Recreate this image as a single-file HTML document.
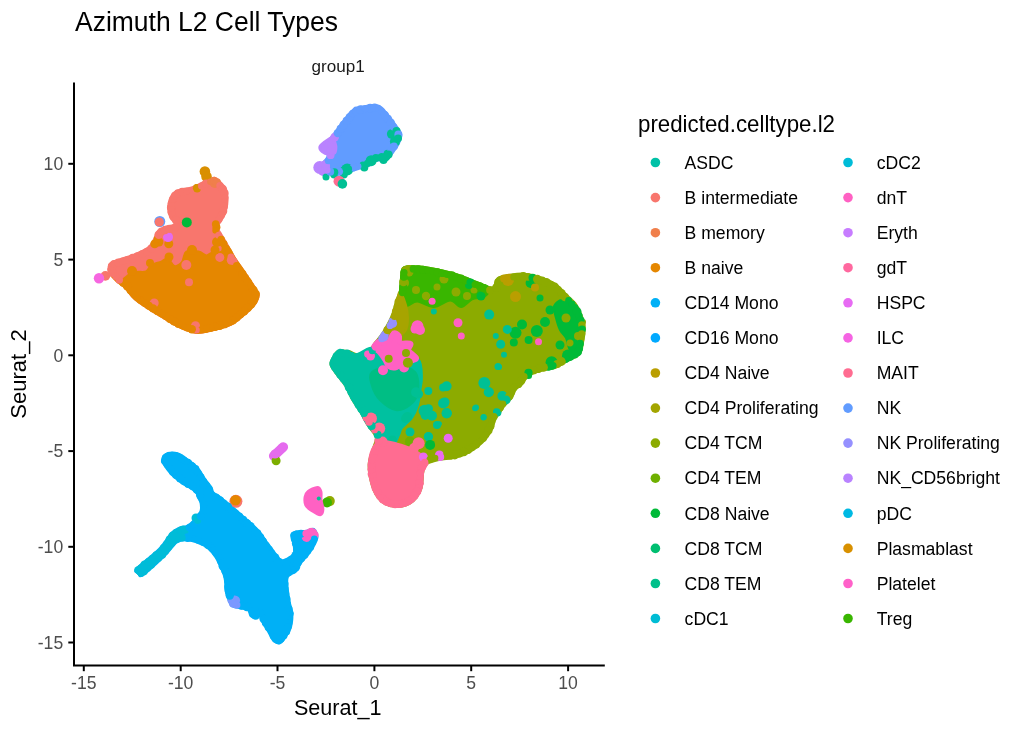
<!DOCTYPE html><html><head><meta charset="utf-8"><style>html,body{margin:0;padding:0;background:#fff;}svg{display:block;will-change:transform;}text{font-family:"Liberation Sans",sans-serif;}</style></head><body>
<svg width="1024" height="731" viewBox="0 0 1024 731">
<rect width="1024" height="731" fill="#fff"/>
<text transform="translate(75 30.9) scale(1 1.065)" x="0" y="0" font-size="26.5" fill="#000">Azimuth L2 Cell Types</text>
<text x="338.2" y="71.6" font-size="17.1" fill="#1A1A1A" text-anchor="middle">group1</text>
<path d="M170.3 217.5 C169.2 214.8 168.3 210.9 168.2 207.9 C168.1 204.9 168.7 202.2 169.6 199.7 C170.5 197.2 171.9 194.5 173.7 192.8 C175.5 191.1 177.5 190.3 180.5 189.4 C183.5 188.5 188.3 188.3 191.5 187.4 C194.7 186.5 197.2 185.2 199.7 184.0 C202.2 182.8 204.0 181.5 206.5 180.5 C209.0 179.5 212.4 177.6 214.7 177.8 C217.0 178.0 218.4 180.1 220.2 181.9 C222.0 183.7 224.4 186.0 225.7 188.7 C226.9 191.4 227.7 194.4 227.7 198.3 C227.7 202.2 226.7 208.3 225.7 212.0 C224.7 215.7 223.0 217.7 221.6 220.2 C220.2 222.7 217.7 224.9 217.5 227.0 C217.3 229.1 219.1 230.4 220.2 232.5 C221.3 234.6 222.7 236.6 224.3 239.3 C225.9 242.0 228.0 245.7 229.8 248.9 C231.6 252.1 232.7 254.6 235.2 258.5 C237.7 262.4 241.4 267.3 244.7 272.2 C248.0 277.1 252.9 284.2 255.2 288.0 C257.5 291.8 258.7 292.4 258.7 295.0 C258.7 297.6 257.5 300.6 255.2 303.8 C252.9 307.0 248.8 310.9 244.7 314.4 C240.6 317.9 235.9 322.3 230.6 324.9 C225.3 327.5 218.8 328.9 213.0 330.2 C207.2 331.5 201.3 333.4 195.5 332.8 C189.7 332.2 183.8 329.5 177.9 326.7 C172.0 323.9 165.6 319.3 160.3 316.1 C155.0 312.9 150.6 310.2 146.2 307.3 C141.8 304.4 137.5 301.8 134.0 298.6 C130.5 295.4 128.1 290.9 125.2 288.0 C122.3 285.1 119.1 283.6 116.4 281.0 C113.8 278.4 110.3 275.1 109.3 272.2 C108.3 269.3 108.7 265.4 110.2 263.4 C111.7 261.3 114.1 261.4 118.1 259.9 C122.1 258.4 129.0 256.6 134.0 254.6 C139.0 252.6 144.8 249.9 148.0 247.6 C151.2 245.2 151.7 243.2 153.3 240.5 C154.9 237.8 155.6 233.8 157.5 231.5 C159.4 229.2 162.1 228.2 165.0 227.0 C167.9 225.8 174.1 225.9 175.0 224.3 C175.9 222.7 171.4 220.2 170.3 217.5Z" fill="#F8766D" stroke="#F8766D" stroke-width="2" stroke-linejoin="round"/>
<path d="M111.0 275.0 C111.5 275.0 117.0 280.8 119.7 281.0 C122.4 281.2 124.5 277.5 127.0 276.0 C129.6 274.5 131.8 272.8 135.0 272.0 C138.2 271.2 143.3 272.6 146.0 271.4 C148.7 270.2 148.8 266.5 151.4 264.9 C154.0 263.3 158.6 262.7 161.3 261.6 C164.0 260.5 165.6 257.6 167.8 258.3 C170.0 259.0 172.0 265.4 174.4 266.0 C176.8 266.6 180.0 264.4 182.0 262.0 C184.0 259.6 183.5 253.3 186.3 251.6 C189.1 249.9 195.3 251.0 198.7 251.6 C202.0 252.2 204.2 255.2 206.4 255.4 C208.6 255.6 209.6 253.2 212.1 252.6 C214.6 252.0 219.9 253.2 221.7 251.6 C223.5 250.0 222.0 243.9 222.7 243.0 C223.4 242.1 224.8 245.0 226.0 246.0 C227.2 247.0 228.3 246.8 229.8 248.9 C231.3 251.0 232.7 254.6 235.2 258.5 C237.7 262.4 241.4 267.3 244.7 272.2 C248.0 277.1 252.9 284.2 255.2 288.0 C257.5 291.8 258.7 292.4 258.7 295.0 C258.7 297.6 257.5 300.6 255.2 303.8 C252.9 307.0 248.8 310.9 244.7 314.4 C240.6 317.9 235.9 322.3 230.6 324.9 C225.3 327.5 218.8 328.9 213.0 330.2 C207.2 331.5 201.3 333.4 195.5 332.8 C189.7 332.2 183.8 329.5 177.9 326.7 C172.0 323.9 165.6 319.3 160.3 316.1 C155.0 312.9 150.6 310.2 146.2 307.3 C141.8 304.4 137.5 301.8 134.0 298.6 C130.5 295.4 128.1 290.9 125.2 288.0 C122.3 285.1 118.8 283.2 116.4 281.0 C114.0 278.8 110.5 275.0 111.0 275.0Z" fill="#E58700" stroke="#E58700" stroke-width="2" stroke-linejoin="round"/>
<circle cx="154.2" cy="303.0" r="4.5" fill="#F8766D"/><circle cx="195.5" cy="325.8" r="4.5" fill="#F8766D"/><circle cx="219.8" cy="257.4" r="4.5" fill="#F8766D"/><circle cx="231.3" cy="260.2" r="4.5" fill="#F8766D"/><circle cx="186.3" cy="265.0" r="5.0" fill="#F8766D"/><circle cx="189.0" cy="282.3" r="4.0" fill="#F8766D"/>
<circle cx="158.9" cy="242.0" r="4.5" fill="#E58700"/><circle cx="168.8" cy="243.7" r="4.5" fill="#E58700"/><circle cx="216.4" cy="227.3" r="4.0" fill="#E58700"/><circle cx="217.0" cy="242.0" r="5.0" fill="#E58700"/><circle cx="132.0" cy="271.0" r="5.0" fill="#E58700"/><circle cx="150.0" cy="263.0" r="4.0" fill="#E58700"/><circle cx="169.0" cy="257.0" r="4.5" fill="#E58700"/><circle cx="192.0" cy="250.0" r="5.0" fill="#E58700"/><circle cx="215.0" cy="250.0" r="4.5" fill="#E58700"/>
<circle cx="204.9" cy="171.5" r="5.3" fill="#D98F00"/><circle cx="206.5" cy="176.4" r="5.3" fill="#D98F00"/><circle cx="196.5" cy="187.0" r="3.0" fill="#D98F00"/>
<circle cx="214.7" cy="183.0" r="5.0" fill="#F07F4B"/>
<circle cx="159.8" cy="221.5" r="5.5" fill="#619CFF"/><circle cx="159.3" cy="222.0" r="4.6" fill="#F8766D"/>
<circle cx="105.4" cy="275.9" r="4.8" fill="#F8766D"/><circle cx="99.0" cy="278.3" r="5.2" fill="#F666E0"/>
<circle cx="168.0" cy="237.1" r="5.0" fill="#E56BEE"/><circle cx="186.8" cy="222.4" r="5.0" fill="#00BA38"/>
<path d="M369.8 105.3 C373.9 104.8 376.4 104.5 379.4 106.0 C382.4 107.5 384.9 111.0 387.6 114.2 C390.3 117.4 393.5 121.7 395.8 125.1 C398.1 128.5 400.9 131.5 401.3 134.7 C401.8 137.9 399.9 141.3 398.5 144.3 C397.1 147.3 394.8 150.0 393.0 152.5 C391.2 155.0 390.3 157.9 387.6 159.3 C384.9 160.7 379.3 159.8 376.6 160.7 C373.9 161.6 374.2 163.4 371.2 164.8 C368.2 166.2 362.7 167.7 358.8 168.9 C354.9 170.1 352.0 171.0 347.9 172.0 C343.8 173.0 338.0 175.0 334.2 175.0 C330.4 175.0 327.0 173.8 325.0 172.0 C323.0 170.2 321.6 166.6 322.0 164.0 C322.4 161.4 326.2 160.6 327.4 156.6 C328.6 152.6 328.3 144.1 329.4 140.2 C330.5 136.3 331.6 137.0 334.2 133.3 C336.8 129.7 341.8 122.4 345.2 118.3 C348.6 114.2 350.6 110.9 354.7 108.7 C358.8 106.5 365.7 105.8 369.8 105.3Z" fill="#619CFF" stroke="#619CFF" stroke-width="2" stroke-linejoin="round"/>
<path d="M337.1 135.7 C336.7 135.1 334.2 136.0 332.2 137.0 C330.1 138.0 326.9 140.3 324.8 141.9 C322.8 143.5 320.3 145.2 319.9 146.8 C319.5 148.4 320.9 150.5 322.3 151.7 C323.7 152.9 326.4 154.0 328.5 154.2 C330.6 154.4 333.4 154.2 334.6 153.0 C335.8 151.8 335.9 148.9 335.9 146.8 C335.9 144.7 334.4 142.4 334.6 140.6 C334.8 138.8 337.5 136.3 337.1 135.7Z" fill="#B983FF" stroke="#B983FF" stroke-width="3" stroke-linejoin="round"/>
<circle cx="319.8" cy="167.5" r="6.5" fill="#B983FF"/><circle cx="323.0" cy="171.0" r="5.0" fill="#B983FF"/><circle cx="326.0" cy="166.0" r="4.0" fill="#B983FF"/>
<circle cx="391.7" cy="134.0" r="4.8" fill="#00C094"/><circle cx="394.4" cy="141.5" r="4.5" fill="#00C094"/><circle cx="387.6" cy="153.8" r="4.0" fill="#00C094"/><circle cx="383.5" cy="160.0" r="4.0" fill="#00C094"/><circle cx="371.2" cy="160.7" r="5.5" fill="#00C094"/><circle cx="364.3" cy="167.5" r="4.0" fill="#00C094"/><circle cx="347.2" cy="169.6" r="6.0" fill="#00C094"/><circle cx="343.8" cy="174.4" r="4.0" fill="#00C094"/><circle cx="334.2" cy="174.4" r="4.0" fill="#00C094"/><circle cx="326.0" cy="177.0" r="3.5" fill="#00C094"/>
<circle cx="339.0" cy="181.2" r="5.5" fill="#FF6C91"/><circle cx="342.4" cy="183.9" r="4.8" fill="#00C094"/>
<path d="M403.6 267.5 C406.7 265.6 412.8 266.0 419.6 266.6 C426.4 267.2 437.9 269.5 444.6 271.0 C451.3 272.5 454.6 273.5 460.0 275.4 C465.4 277.3 471.7 280.2 477.1 282.2 C482.5 284.2 489.1 288.1 492.5 287.4 C495.9 286.7 494.5 280.1 497.6 278.0 C500.7 275.9 506.7 275.2 511.3 274.5 C515.9 273.8 520.2 273.3 525.0 273.7 C529.8 274.1 535.2 275.4 540.3 277.1 C545.4 278.8 551.4 281.1 555.7 284.0 C560.0 286.9 562.6 290.8 566.0 294.2 C569.4 297.6 573.6 301.0 576.2 304.4 C578.8 307.8 580.0 311.0 581.4 314.7 C582.8 318.4 584.5 322.1 584.8 326.7 C585.1 331.2 584.0 337.4 583.1 342.0 C582.2 346.6 582.3 350.9 579.7 354.0 C577.1 357.1 571.7 358.6 567.7 360.9 C563.7 363.2 560.3 366.0 555.7 367.7 C551.1 369.4 544.8 369.7 540.3 371.1 C535.8 372.5 531.5 373.9 528.4 376.2 C525.3 378.5 523.5 382.8 521.5 385.0 C519.5 387.2 517.7 387.1 516.1 389.2 C514.5 391.3 514.0 394.4 512.0 397.4 C509.9 400.4 506.5 403.4 503.8 407.0 C501.1 410.6 497.4 415.9 495.6 419.3 C493.8 422.7 494.2 424.5 492.8 427.5 C491.4 430.5 489.9 433.9 487.4 437.1 C484.9 440.3 481.2 443.9 477.8 446.6 C474.4 449.3 470.8 451.6 466.8 453.5 C462.9 455.4 458.8 457.0 454.1 458.1 C449.4 459.2 443.3 459.0 438.8 460.0 C434.3 461.0 429.9 462.0 427.3 463.9 C424.7 465.8 424.2 468.6 423.4 471.5 C422.6 474.4 423.0 477.9 422.5 481.1 C422.0 484.3 422.4 487.2 420.6 490.7 C418.9 494.2 415.7 499.5 412.0 502.2 C408.3 504.9 403.0 506.7 398.5 507.0 C394.0 507.3 388.9 506.2 385.1 504.1 C381.3 502.0 378.2 499.0 375.6 494.5 C373.1 490.0 370.9 482.7 369.8 477.3 C368.7 471.9 368.3 467.1 368.9 462.0 C369.5 456.9 372.5 450.8 373.6 446.6 C374.7 442.4 376.6 440.5 375.6 437.0 C374.7 433.5 370.5 429.8 367.9 425.6 C365.3 421.5 362.9 416.6 360.2 412.1 C357.5 407.6 354.2 403.2 351.6 398.7 C349.1 394.2 347.2 389.1 344.9 385.3 C342.6 381.5 340.2 379.3 337.8 376.0 C335.4 372.7 331.6 368.3 330.7 365.3 C329.8 362.3 331.3 360.6 332.5 358.2 C333.7 355.8 335.1 352.3 337.8 351.1 C340.5 349.9 344.9 350.5 348.5 351.1 C352.1 351.7 355.6 354.9 359.1 354.6 C362.7 354.3 367.1 351.4 369.8 349.3 C372.5 347.2 373.1 344.9 375.2 342.2 C377.3 339.5 379.9 336.9 382.3 333.3 C384.7 329.7 387.6 324.4 389.4 320.8 C391.2 317.2 391.8 315.6 393.0 312.0 C394.2 308.4 395.3 303.1 396.5 299.5 C397.7 295.9 399.4 294.2 400.1 290.6 C400.9 287.0 400.4 282.0 401.0 278.1 C401.6 274.2 400.5 269.4 403.6 267.5Z" fill="#8CAB00" stroke="#8CAB00" stroke-width="2" stroke-linejoin="round"/>
<path d="M403.6 267.5 C406.7 265.6 412.8 266.0 419.6 266.6 C426.4 267.2 437.9 269.5 444.6 271.0 C451.3 272.5 454.6 273.5 460.0 275.4 C465.4 277.3 472.4 280.2 477.1 282.2 C481.9 284.2 486.6 285.6 488.5 287.4 C490.4 289.2 489.4 291.2 488.5 292.8 C487.6 294.4 485.7 296.1 483.0 297.2 C480.3 298.3 475.8 297.8 472.1 299.4 C468.5 301.0 464.8 306.8 461.1 307.0 C457.5 307.2 454.8 300.5 450.2 300.5 C445.6 300.5 439.3 306.8 433.8 307.0 C428.3 307.2 422.0 301.8 417.4 301.6 C412.8 301.4 409.3 306.3 406.4 306.0 C403.5 305.7 400.9 304.6 400.0 300.0 C399.1 295.4 400.4 283.5 401.0 278.1 C401.6 272.7 400.5 269.4 403.6 267.5Z" fill="#39B600" stroke="#39B600" stroke-width="2" stroke-linejoin="round"/>
<circle cx="409.0" cy="272.0" r="4.5" fill="#8CAB00"/><circle cx="405.0" cy="283.0" r="4.0" fill="#8CAB00"/><circle cx="416.0" cy="290.0" r="4.0" fill="#8CAB00"/><circle cx="444.0" cy="279.0" r="4.5" fill="#8CAB00"/><circle cx="456.0" cy="292.0" r="4.5" fill="#8CAB00"/><circle cx="467.0" cy="296.0" r="4.0" fill="#8CAB00"/><circle cx="426.0" cy="296.0" r="4.2" fill="#8CAB00"/><circle cx="437.0" cy="287.0" r="3.5" fill="#8CAB00"/><circle cx="474.0" cy="290.0" r="3.5" fill="#8CAB00"/>
<circle cx="481.0" cy="296.0" r="4.5" fill="#00BA38"/><circle cx="469.0" cy="285.0" r="4.0" fill="#00BA38"/>
<path d="M400.0 292.0 C401.5 292.8 404.7 300.7 406.0 305.0 C407.3 309.3 408.0 313.8 408.0 318.0 C408.0 322.2 407.7 327.0 406.0 330.0 C404.3 333.0 402.0 334.8 398.0 336.0 C394.0 337.2 383.7 338.3 382.0 337.0 C380.3 335.7 386.2 331.7 388.0 328.0 C389.8 324.3 391.5 319.7 393.0 315.0 C394.5 310.3 395.8 303.8 397.0 300.0 C398.2 296.2 398.5 291.2 400.0 292.0Z" fill="#A7A400" stroke="#A7A400" stroke-width="2" stroke-linejoin="round"/>
<path d="M562.0 300.0 C565.0 299.8 569.0 302.3 572.0 305.0 C575.0 307.7 578.0 312.2 580.0 316.0 C582.0 319.8 583.7 323.7 584.0 328.0 C584.3 332.3 583.0 338.0 582.0 342.0 C581.0 346.0 580.0 350.7 578.0 352.0 C576.0 353.3 572.0 352.3 570.0 350.0 C568.0 347.7 567.7 341.3 566.0 338.0 C564.3 334.7 561.7 333.3 560.0 330.0 C558.3 326.7 557.0 322.0 556.0 318.0 C555.0 314.0 553.0 309.0 554.0 306.0 C555.0 303.0 559.0 300.2 562.0 300.0Z" fill="#00BA38" stroke="#00BA38" stroke-width="2" stroke-linejoin="round"/>
<circle cx="566.0" cy="318.0" r="4.5" fill="#8CAB00"/><circle cx="578.0" cy="336.0" r="4.0" fill="#8CAB00"/><circle cx="570.0" cy="343.0" r="3.5" fill="#8CAB00"/><circle cx="583.0" cy="322.0" r="3.0" fill="#8CAB00"/>
<circle cx="536.8" cy="331.0" r="6.0" fill="#00BA38"/><circle cx="515.5" cy="332.7" r="6.0" fill="#00BA38"/><circle cx="522.0" cy="324.5" r="5.0" fill="#00BA38"/><circle cx="513.8" cy="342.5" r="4.0" fill="#00BA38"/><circle cx="551.6" cy="362.2" r="6.0" fill="#00BA38"/><circle cx="568.0" cy="355.6" r="6.0" fill="#00BA38"/><circle cx="576.2" cy="349.0" r="5.0" fill="#00BA38"/><circle cx="545.0" cy="322.0" r="5.0" fill="#00BA38"/><circle cx="550.0" cy="310.0" r="4.5" fill="#00BA38"/><circle cx="530.6" cy="283.0" r="5.0" fill="#00BA38"/><circle cx="568.2" cy="355.2" r="5.0" fill="#00BA38"/><circle cx="540.0" cy="298.0" r="3.5" fill="#00BA38"/><circle cx="560.0" cy="345.0" r="4.5" fill="#00BA38"/><circle cx="528.6" cy="340.0" r="4.0" fill="#00BA38"/>
<circle cx="508.0" cy="280.0" r="6.0" fill="#BA9E00"/><circle cx="515.5" cy="296.6" r="5.5" fill="#BA9E00"/><circle cx="535.0" cy="287.6" r="4.0" fill="#BA9E00"/>
<circle cx="538.5" cy="341.7" r="3.5" fill="#FF61C3"/><circle cx="458.0" cy="322.8" r="4.5" fill="#FF61C3"/><circle cx="461.3" cy="336.0" r="3.5" fill="#FF61C3"/>
<circle cx="489.2" cy="314.6" r="5.0" fill="#00C094"/><circle cx="500.7" cy="344.2" r="4.5" fill="#00C094"/><circle cx="507.3" cy="329.4" r="4.5" fill="#00C094"/><circle cx="495.8" cy="336.0" r="3.0" fill="#00C094"/><circle cx="504.0" cy="354.8" r="3.0" fill="#00C094"/><circle cx="499.0" cy="367.0" r="3.0" fill="#00C094"/>
<path d="M331.6 359.5 C333.1 356.9 336.0 350.5 339.8 349.7 C343.6 348.9 349.7 354.9 354.6 354.6 C359.5 354.3 365.2 348.8 369.4 348.0 C373.6 347.2 374.9 348.7 380.0 350.0 C385.1 351.3 393.6 354.4 400.0 356.0 C406.4 357.6 415.0 355.9 418.6 359.5 C422.2 363.1 421.7 372.2 421.9 377.6 C422.1 383.0 420.6 387.4 420.0 392.0 C419.4 396.6 419.3 400.7 418.0 405.0 C416.7 409.3 414.7 414.2 412.0 418.0 C409.3 421.8 404.2 425.2 402.0 428.0 C399.8 430.8 400.6 432.2 399.0 435.0 C397.4 437.8 395.9 444.8 392.4 445.0 C388.9 445.2 382.1 439.2 378.0 436.0 C373.9 432.8 370.9 429.6 367.9 425.6 C364.9 421.6 362.9 416.6 360.2 412.1 C357.5 407.6 354.2 403.2 351.6 398.7 C349.1 394.2 347.2 389.1 344.9 385.3 C342.6 381.5 340.2 379.3 337.8 376.0 C335.4 372.7 331.7 368.1 330.7 365.3 C329.7 362.6 330.1 362.1 331.6 359.5Z" fill="#00C1A0" stroke="#00C1A0" stroke-width="2" stroke-linejoin="round"/>
<path d="M372.0 372.0 C375.8 368.7 387.8 366.0 395.0 366.0 C402.2 366.0 411.2 367.7 415.0 372.0 C418.8 376.3 418.8 386.5 418.0 392.0 C417.2 397.5 413.7 402.0 410.0 405.0 C406.3 408.0 401.0 410.8 396.0 410.0 C391.0 409.2 384.0 404.0 380.0 400.0 C376.0 396.0 373.3 390.7 372.0 386.0 C370.7 381.3 368.2 375.3 372.0 372.0Z" fill="#00BE84" stroke="#00BE84" stroke-width="2" stroke-linejoin="round"/>
<circle cx="418.6" cy="394.0" r="4.5" fill="#00C094"/><circle cx="428.5" cy="408.8" r="4.5" fill="#00C094"/><circle cx="445.0" cy="402.0" r="4.5" fill="#00C094"/><circle cx="446.5" cy="413.7" r="4.5" fill="#00C094"/><circle cx="425.2" cy="415.4" r="4.5" fill="#00C094"/><circle cx="405.5" cy="418.6" r="4.5" fill="#00C094"/><circle cx="428.5" cy="436.7" r="4.5" fill="#00C094"/><circle cx="392.4" cy="440.0" r="4.5" fill="#00C094"/><circle cx="484.3" cy="383.0" r="6.0" fill="#00C094"/><circle cx="489.2" cy="392.0" r="4.5" fill="#00C094"/><circle cx="502.4" cy="396.0" r="5.0" fill="#00C094"/><circle cx="498.0" cy="366.6" r="3.5" fill="#00C094"/><circle cx="497.4" cy="412.5" r="4.0" fill="#00C094"/><circle cx="476.0" cy="407.6" r="3.0" fill="#00C094"/><circle cx="446.6" cy="386.3" r="5.0" fill="#00C094"/><circle cx="444.1" cy="402.7" r="5.0" fill="#00C094"/><circle cx="446.6" cy="413.3" r="5.0" fill="#00C094"/><circle cx="483.5" cy="417.4" r="3.0" fill="#00C094"/><circle cx="433.8" cy="311.4" r="3.0" fill="#00C094"/><circle cx="437.0" cy="425.0" r="4.0" fill="#00C094"/><circle cx="410.0" cy="432.0" r="4.5" fill="#00C094"/>
<circle cx="416.0" cy="392.3" r="5.0" fill="#00C094"/><circle cx="424.6" cy="410.8" r="6.0" fill="#00C094"/><circle cx="432.0" cy="415.7" r="5.0" fill="#00C094"/><circle cx="443.1" cy="403.4" r="5.0" fill="#00C094"/><circle cx="446.8" cy="413.3" r="5.0" fill="#00C094"/><circle cx="443.1" cy="387.4" r="4.0" fill="#00C094"/><circle cx="428.3" cy="391.0" r="4.0" fill="#00C094"/><circle cx="407.4" cy="417.0" r="5.0" fill="#00C094"/><circle cx="404.9" cy="452.7" r="5.0" fill="#00C094"/><circle cx="428.3" cy="436.6" r="4.5" fill="#00C094"/><circle cx="488.7" cy="392.3" r="5.0" fill="#00C094"/><circle cx="497.3" cy="412.0" r="4.0" fill="#00C094"/><circle cx="475.1" cy="408.3" r="3.0" fill="#00C094"/><circle cx="483.7" cy="417.0" r="3.0" fill="#00C094"/><circle cx="439.4" cy="423.7" r="2.5" fill="#00C094"/>
<circle cx="409.9" cy="441.6" r="5.0" fill="#6FB000"/>
<path d="M373.6 446.6 C376.0 443.1 379.4 441.6 383.0 441.0 C386.6 440.4 390.5 441.8 395.0 443.0 C399.5 444.2 404.6 445.2 410.0 448.0 C415.4 450.8 425.1 456.1 427.3 460.0 C429.5 463.9 424.2 468.0 423.4 471.5 C422.6 475.0 423.0 477.9 422.5 481.1 C422.0 484.3 422.4 487.2 420.6 490.7 C418.9 494.2 415.7 499.5 412.0 502.2 C408.3 504.9 403.0 506.7 398.5 507.0 C394.0 507.3 388.9 506.2 385.1 504.1 C381.3 502.0 378.2 499.0 375.6 494.5 C373.1 490.0 370.9 482.7 369.8 477.3 C368.7 471.9 368.3 467.1 368.9 462.0 C369.5 456.9 371.2 450.1 373.6 446.6Z" fill="#FF6C91" stroke="#FF6C91" stroke-width="2" stroke-linejoin="round"/>
<circle cx="371.0" cy="418.6" r="6.0" fill="#FF6C91"/><circle cx="379.2" cy="428.5" r="6.0" fill="#FF6C91"/><circle cx="382.5" cy="441.6" r="5.0" fill="#FF6C91"/><circle cx="418.6" cy="443.3" r="6.0" fill="#FF6C91"/><circle cx="414.0" cy="448.0" r="5.0" fill="#FF6C91"/>
<path d="M388.7 341.6 C390.3 340.0 391.7 333.9 393.5 333.0 C395.3 332.1 398.2 334.3 399.3 335.9 C400.4 337.5 398.3 341.3 400.2 342.6 C402.1 343.9 409.4 342.2 410.8 343.5 C412.2 344.8 407.9 347.8 408.8 350.2 C409.8 352.6 416.0 356.1 416.5 357.9 C417.0 359.7 413.6 360.2 411.7 360.8 C409.8 361.4 407.6 360.6 405.0 361.7 C402.4 362.8 399.1 366.7 396.4 367.5 C393.7 368.3 390.6 367.8 388.7 366.5 C386.8 365.2 386.5 362.2 384.9 359.8 C383.3 357.4 380.9 354.0 379.2 352.1 C377.4 350.2 374.9 349.7 374.4 348.3 C373.9 346.9 374.7 344.4 376.3 343.5 C377.9 342.6 381.9 342.9 384.0 342.6 C386.1 342.3 387.1 343.2 388.7 341.6Z" fill="#FF61C3" stroke="#FF61C3" stroke-width="5" stroke-linejoin="round"/>
<circle cx="383.0" cy="370.3" r="5.0" fill="#FF61C3"/><circle cx="404.0" cy="367.5" r="5.0" fill="#FF61C3"/><circle cx="370.5" cy="356.0" r="4.5" fill="#FF61C3"/><circle cx="417.5" cy="326.3" r="6.0" fill="#FF61C3"/><circle cx="420.0" cy="330.0" r="5.0" fill="#FF61C3"/><circle cx="415.0" cy="329.0" r="4.5" fill="#FF61C3"/><circle cx="432.1" cy="301.3" r="3.5" fill="#FF61C3"/>
<circle cx="388.7" cy="358.8" r="4.0" fill="#8CAB00"/><circle cx="407.9" cy="362.7" r="5.0" fill="#8CAB00"/><circle cx="406.0" cy="353.1" r="4.0" fill="#8CAB00"/>
<circle cx="392.6" cy="323.4" r="4.5" fill="#9590FF"/><circle cx="384.0" cy="336.8" r="4.5" fill="#9590FF"/>
<circle cx="528.6" cy="375.6" r="3.5" fill="#00BA38"/><circle cx="551.6" cy="365.0" r="5.0" fill="#00BA38"/><circle cx="430.1" cy="444.9" r="5.0" fill="#00BA38"/><circle cx="448.2" cy="438.3" r="4.5" fill="#EA6AF0"/><circle cx="423.4" cy="457.0" r="4.5" fill="#EA6AF0"/><circle cx="439.4" cy="455.0" r="4.5" fill="#EA6AF0"/>
<path d="M163.1 456.4 C163.9 454.9 165.1 453.7 167.5 453.1 C169.9 452.6 174.5 452.4 177.4 453.1 C180.3 453.8 182.3 455.7 185.0 457.5 C187.7 459.3 191.4 462.1 193.8 464.1 C196.2 466.1 197.4 467.1 199.2 469.5 C201.0 471.9 202.7 475.4 204.7 478.3 C206.7 481.2 209.8 484.6 211.3 487.0 C212.8 489.4 212.1 490.9 213.5 492.5 C214.9 494.1 217.8 495.2 220.0 496.9 C222.2 498.5 224.8 500.9 226.6 502.4 C228.4 503.8 228.7 503.7 231.0 505.6 C233.3 507.5 236.8 510.8 240.2 513.7 C243.6 516.7 248.0 520.3 251.2 523.3 C254.4 526.3 256.9 528.5 259.4 531.5 C261.9 534.5 263.7 537.6 266.2 541.0 C268.7 544.4 271.9 548.8 274.4 552.0 C276.9 555.2 279.2 559.1 281.3 560.2 C283.4 561.3 284.6 559.9 286.7 558.8 C288.8 557.7 292.5 555.7 293.6 553.4 C294.8 551.1 294.0 548.3 293.6 545.2 C293.2 542.1 291.1 537.3 291.5 535.0 C291.9 532.7 293.8 532.2 296.3 531.5 C298.8 530.8 303.8 531.1 306.7 530.7 C309.6 530.3 312.0 527.7 313.8 528.9 C315.6 530.1 318.0 533.9 317.4 537.8 C316.8 541.6 313.0 547.9 310.3 552.0 C307.6 556.1 303.7 559.5 301.4 562.7 C299.1 565.9 298.5 568.9 296.3 571.2 C294.1 573.5 289.6 574.1 288.1 576.6 C286.6 579.1 287.2 581.6 287.5 586.0 C287.8 590.4 289.1 598.5 289.9 602.8 C290.7 607.1 291.7 608.5 292.1 611.6 C292.5 614.7 292.5 618.3 292.1 621.4 C291.7 624.5 291.2 627.3 289.9 630.2 C288.6 633.1 286.0 636.7 284.4 638.9 C282.8 641.1 281.8 642.9 280.0 643.3 C278.2 643.7 275.3 642.7 273.5 641.1 C271.7 639.5 271.1 637.0 269.1 633.5 C267.1 630.0 263.0 623.4 261.4 620.3 C259.8 617.2 260.1 615.3 259.2 614.9 C258.3 614.5 257.4 617.9 256.0 618.1 C254.6 618.3 251.8 617.3 250.5 616.0 C249.2 614.7 250.0 611.8 248.3 610.5 C246.7 609.2 243.3 609.0 240.6 608.3 C237.9 607.6 234.1 607.9 231.9 606.1 C229.7 604.3 228.6 600.1 227.5 597.4 C226.4 594.7 225.7 592.2 225.3 589.7 C224.9 587.2 225.4 584.5 225.2 582.1 C224.9 579.7 224.7 578.0 223.8 575.3 C222.9 572.6 221.1 568.7 219.7 565.7 C218.3 562.7 217.6 560.5 215.6 557.5 C213.6 554.5 210.6 550.4 207.4 547.9 C204.2 545.4 199.6 543.6 196.4 542.4 C193.2 541.1 191.2 540.4 188.0 540.4 C184.8 540.4 180.9 539.8 177.0 542.4 C173.1 545.0 170.4 550.6 164.7 556.1 C159.0 561.6 147.2 572.5 142.8 575.3 C138.4 578.1 139.0 574.1 138.0 573.0 C137.0 571.9 133.1 572.5 136.6 568.4 C140.1 564.3 153.4 554.5 159.2 548.6 C165.0 542.7 168.0 536.3 171.5 532.8 C175.0 529.3 177.4 528.5 180.0 527.4 C182.6 526.3 184.5 527.1 186.8 526.0 C189.1 524.9 191.4 523.0 193.7 520.5 C196.0 518.0 199.4 514.2 200.5 511.0 C201.6 507.8 200.7 503.5 200.3 501.3 C199.9 499.1 198.8 499.5 198.1 498.0 C197.4 496.5 197.6 494.3 196.0 492.5 C194.4 490.7 190.5 488.4 188.3 487.0 C186.1 485.6 184.5 484.9 182.8 483.8 C181.2 482.7 180.2 482.0 178.4 480.5 C176.6 479.0 173.9 477.0 171.9 475.0 C169.9 473.0 168.0 470.6 166.4 468.4 C164.8 466.2 163.2 463.9 162.6 461.9 C162.0 459.9 162.3 457.9 163.1 456.4Z" fill="#00B0F6" stroke="#00B0F6" stroke-width="2" stroke-linejoin="round"/>
<path d="M140.5 571.5 L162 552 L168.8 545.2 L179.7 532.8" stroke="#00BCD8" stroke-width="9" stroke-linecap="round" fill="none"/>
<circle cx="183.0" cy="531.0" r="5.5" fill="#00BCD8"/><circle cx="196.0" cy="518.0" r="4.5" fill="#00BCD8"/>
<circle cx="235.9" cy="501.3" r="6.5" fill="#F8766D"/><circle cx="235.5" cy="500.3" r="5.3" fill="#E58700"/>
<circle cx="234.7" cy="600.9" r="5.5" fill="#7B98FF"/>
<circle cx="311.2" cy="533.3" r="5.5" fill="#FF61C3"/><circle cx="306.7" cy="536.9" r="5.0" fill="#FF61C3"/>
<path d="M283.3 447.1 L273.7 456" stroke="#E56BEE" stroke-width="9.6" stroke-linecap="round" fill="none"/>
<circle cx="276.1" cy="460.8" r="4.5" fill="#7CAE00"/><circle cx="275.0" cy="454.0" r="4.6" fill="#E56BEE"/><circle cx="282.0" cy="448.0" r="4.6" fill="#E56BEE"/>
<circle cx="329.8" cy="501.1" r="5.0" fill="#90AA00"/><circle cx="327.0" cy="502.5" r="5.0" fill="#3DB400"/>
<path d="M307.9 491.6 C309.9 490.0 315.2 487.4 317.4 487.4 C319.6 487.4 320.3 489.5 320.9 491.6 C321.5 493.7 320.7 497.1 321.0 500.0 C321.3 502.9 323.0 506.8 322.9 509.3 C322.8 511.8 322.0 514.6 320.2 514.8 C318.4 515.0 314.4 512.3 312.0 510.7 C309.6 509.1 306.9 507.5 305.8 505.2 C304.7 502.9 304.8 499.3 305.1 497.0 C305.5 494.7 305.8 493.2 307.9 491.6Z" fill="#FF61C3" stroke="#FF61C3" stroke-width="3" stroke-linejoin="round"/>
<circle cx="318.8" cy="498.4" r="2.0" fill="#00C094"/>
<circle cx="172.8" cy="216.2" r="3.4" fill="#F8766D"/><circle cx="171.6" cy="212.1" r="4.2" fill="#F8766D"/><circle cx="171.0" cy="207.7" r="4.1" fill="#F8766D"/><circle cx="171.4" cy="203.4" r="3.6" fill="#F8766D"/><circle cx="172.8" cy="199.2" r="3.8" fill="#F8766D"/><circle cx="174.9" cy="195.6" r="3.8" fill="#F8766D"/><circle cx="178.0" cy="193.2" r="4.0" fill="#F8766D"/><circle cx="182.1" cy="191.9" r="4.2" fill="#F8766D"/><circle cx="186.9" cy="191.1" r="3.4" fill="#F8766D"/><circle cx="192.0" cy="190.2" r="3.3" fill="#F8766D"/><circle cx="197.1" cy="188.3" r="4.2" fill="#D98F00"/><circle cx="201.8" cy="186.1" r="3.8" fill="#F8766D"/><circle cx="206.2" cy="183.7" r="4.1" fill="#F8766D"/><circle cx="210.4" cy="181.8" r="3.3" fill="#F07F4B"/><circle cx="214.0" cy="180.6" r="3.8" fill="#F07F4B"/><circle cx="216.8" cy="182.3" r="4.1" fill="#F07F4B"/><circle cx="219.9" cy="185.5" r="3.6" fill="#F8766D"/><circle cx="222.7" cy="189.0" r="4.3" fill="#F8766D"/><circle cx="224.3" cy="192.9" r="4.3" fill="#F8766D"/><circle cx="224.9" cy="197.3" r="3.3" fill="#F8766D"/><circle cx="224.7" cy="201.9" r="3.3" fill="#F8766D"/><circle cx="224.0" cy="206.6" r="3.9" fill="#F8766D"/><circle cx="223.0" cy="211.1" r="4.3" fill="#F8766D"/><circle cx="221.3" cy="215.3" r="3.7" fill="#F8766D"/><circle cx="218.9" cy="219.3" r="3.5" fill="#F8766D"/><circle cx="215.7" cy="224.1" r="3.8" fill="#E58700"/><circle cx="215.6" cy="230.4" r="3.3" fill="#E58700"/><circle cx="218.6" cy="235.3" r="3.5" fill="#F8766D"/><circle cx="221.2" cy="239.5" r="3.8" fill="#E58700"/><circle cx="223.7" cy="243.8" r="3.8" fill="#E58700"/><circle cx="226.1" cy="248.1" r="3.6" fill="#E58700"/><circle cx="228.6" cy="252.5" r="3.6" fill="#E58700"/><circle cx="231.0" cy="256.9" r="3.5" fill="#F8766D"/><circle cx="233.7" cy="261.3" r="3.8" fill="#F8766D"/><circle cx="236.6" cy="265.5" r="3.6" fill="#E58700"/><circle cx="239.5" cy="269.6" r="3.3" fill="#E58700"/><circle cx="242.3" cy="273.6" r="4.2" fill="#E58700"/><circle cx="245.1" cy="277.8" r="3.9" fill="#E58700"/><circle cx="247.9" cy="281.9" r="4.0" fill="#E58700"/><circle cx="250.6" cy="286.0" r="3.5" fill="#E58700"/><circle cx="253.3" cy="290.2" r="4.4" fill="#E58700"/><circle cx="255.6" cy="293.7" r="4.2" fill="#E58700"/><circle cx="255.5" cy="297.2" r="3.4" fill="#E58700"/><circle cx="253.8" cy="300.9" r="3.7" fill="#E58700"/><circle cx="251.0" cy="304.5" r="4.1" fill="#E58700"/><circle cx="247.7" cy="307.9" r="4.1" fill="#E58700"/><circle cx="244.1" cy="311.2" r="4.3" fill="#E58700"/><circle cx="240.4" cy="314.4" r="3.8" fill="#E58700"/><circle cx="236.6" cy="317.6" r="4.2" fill="#E58700"/><circle cx="232.8" cy="320.4" r="4.0" fill="#E58700"/><circle cx="228.8" cy="322.7" r="3.6" fill="#E58700"/><circle cx="224.4" cy="324.4" r="3.9" fill="#E58700"/><circle cx="219.8" cy="325.7" r="4.3" fill="#E58700"/><circle cx="215.0" cy="326.9" r="4.2" fill="#E58700"/><circle cx="210.2" cy="328.0" r="3.9" fill="#E58700"/><circle cx="205.4" cy="329.1" r="3.9" fill="#E58700"/><circle cx="200.7" cy="329.9" r="3.3" fill="#E58700"/><circle cx="196.2" cy="330.0" r="3.6" fill="#F8766D"/><circle cx="191.8" cy="329.3" r="4.2" fill="#E58700"/><circle cx="187.3" cy="327.8" r="3.8" fill="#E58700"/><circle cx="182.9" cy="325.9" r="3.5" fill="#E58700"/><circle cx="178.5" cy="323.9" r="3.9" fill="#E58700"/><circle cx="174.2" cy="321.5" r="4.1" fill="#E58700"/><circle cx="170.0" cy="319.0" r="4.0" fill="#E58700"/><circle cx="165.9" cy="316.3" r="3.7" fill="#E58700"/><circle cx="161.6" cy="313.6" r="3.8" fill="#E58700"/><circle cx="157.3" cy="311.0" r="3.9" fill="#E58700"/><circle cx="153.1" cy="308.4" r="4.2" fill="#E58700"/><circle cx="148.9" cy="305.7" r="3.9" fill="#E58700"/><circle cx="144.7" cy="303.0" r="3.7" fill="#E58700"/><circle cx="140.7" cy="300.3" r="3.8" fill="#E58700"/><circle cx="136.9" cy="297.4" r="3.3" fill="#E58700"/><circle cx="133.7" cy="294.1" r="3.3" fill="#E58700"/><circle cx="130.7" cy="290.3" r="4.1" fill="#E58700"/><circle cx="127.3" cy="286.2" r="4.4" fill="#E58700"/><circle cx="123.2" cy="282.8" r="4.0" fill="#E58700"/><circle cx="119.3" cy="279.9" r="3.7" fill="#F8766D"/><circle cx="115.9" cy="276.6" r="3.5" fill="#F8766D"/><circle cx="113.1" cy="273.3" r="3.9" fill="#F8766D"/><circle cx="111.6" cy="269.7" r="4.4" fill="#F8766D"/><circle cx="111.9" cy="266.3" r="4.1" fill="#F8766D"/><circle cx="114.1" cy="264.0" r="3.9" fill="#F8766D"/><circle cx="118.2" cy="262.8" r="4.2" fill="#F8766D"/><circle cx="123.0" cy="261.2" r="3.6" fill="#F8766D"/><circle cx="127.7" cy="259.8" r="3.9" fill="#F8766D"/><circle cx="132.6" cy="258.1" r="4.3" fill="#F8766D"/><circle cx="137.4" cy="256.2" r="3.9" fill="#F8766D"/><circle cx="142.0" cy="254.1" r="3.8" fill="#F8766D"/><circle cx="146.7" cy="251.7" r="3.6" fill="#F8766D"/><circle cx="151.3" cy="248.5" r="3.9" fill="#F8766D"/><circle cx="154.7" cy="243.9" r="4.4" fill="#E58700"/><circle cx="157.0" cy="239.1" r="3.3" fill="#E58700"/><circle cx="158.7" cy="234.8" r="4.2" fill="#F8766D"/><circle cx="161.3" cy="231.8" r="4.2" fill="#F8766D"/><circle cx="165.1" cy="230.0" r="4.3" fill="#F8766D"/><circle cx="169.5" cy="228.8" r="4.1" fill="#F8766D"/><circle cx="175.8" cy="227.0" r="4.2" fill="#F8766D"/><circle cx="176.0" cy="220.2" r="3.9" fill="#F8766D"/>
<circle cx="370.1" cy="108.1" r="4.4" fill="#619CFF"/><circle cx="374.6" cy="107.7" r="4.3" fill="#619CFF"/><circle cx="378.4" cy="108.6" r="3.4" fill="#619CFF"/><circle cx="381.6" cy="111.4" r="3.4" fill="#619CFF"/><circle cx="384.7" cy="115.0" r="4.2" fill="#619CFF"/><circle cx="387.8" cy="118.9" r="4.1" fill="#619CFF"/><circle cx="390.8" cy="122.8" r="4.0" fill="#619CFF"/><circle cx="393.7" cy="126.9" r="3.6" fill="#619CFF"/><circle cx="396.5" cy="130.9" r="4.0" fill="#00C094"/><circle cx="398.4" cy="134.5" r="4.0" fill="#619CFF"/><circle cx="398.1" cy="138.3" r="3.9" fill="#00C094"/><circle cx="396.3" cy="142.3" r="3.5" fill="#00C094"/><circle cx="394.0" cy="146.4" r="3.8" fill="#619CFF"/><circle cx="391.0" cy="150.4" r="3.7" fill="#619CFF"/><circle cx="388.5" cy="154.5" r="4.1" fill="#00C094"/><circle cx="385.8" cy="157.0" r="4.4" fill="#00C094"/><circle cx="381.7" cy="157.4" r="4.3" fill="#00C094"/><circle cx="375.9" cy="158.0" r="3.9" fill="#00C094"/><circle cx="371.5" cy="161.3" r="3.8" fill="#00C094"/><circle cx="367.5" cy="163.3" r="3.6" fill="#00C094"/><circle cx="362.9" cy="164.7" r="3.3" fill="#00C094"/><circle cx="358.1" cy="166.2" r="3.3" fill="#619CFF"/><circle cx="353.3" cy="167.7" r="3.8" fill="#619CFF"/><circle cx="348.4" cy="169.0" r="3.7" fill="#00C094"/><circle cx="343.6" cy="170.3" r="3.7" fill="#00C094"/><circle cx="338.8" cy="171.5" r="4.3" fill="#619CFF"/><circle cx="334.4" cy="172.2" r="3.9" fill="#00C094"/><circle cx="330.3" cy="171.7" r="3.9" fill="#619CFF"/><circle cx="326.9" cy="169.9" r="3.6" fill="#B983FF"/><circle cx="325.1" cy="167.0" r="3.3" fill="#B983FF"/><circle cx="325.1" cy="163.9" r="3.7" fill="#B983FF"/><circle cx="328.3" cy="160.7" r="3.5" fill="#619CFF"/><circle cx="330.6" cy="155.2" r="3.9" fill="#B983FF"/><circle cx="331.1" cy="149.8" r="4.4" fill="#B983FF"/><circle cx="331.5" cy="144.8" r="4.0" fill="#B983FF"/><circle cx="332.2" cy="140.6" r="3.5" fill="#B983FF"/><circle cx="334.7" cy="137.1" r="4.3" fill="#B983FF"/><circle cx="337.8" cy="133.1" r="4.2" fill="#619CFF"/><circle cx="340.7" cy="128.9" r="4.1" fill="#619CFF"/><circle cx="343.7" cy="124.9" r="4.3" fill="#619CFF"/><circle cx="346.7" cy="120.9" r="4.1" fill="#619CFF"/><circle cx="349.8" cy="117.1" r="4.2" fill="#619CFF"/><circle cx="352.8" cy="113.5" r="3.7" fill="#619CFF"/><circle cx="356.3" cy="111.0" r="4.4" fill="#619CFF"/><circle cx="360.5" cy="109.6" r="4.4" fill="#619CFF"/><circle cx="365.2" cy="108.7" r="3.5" fill="#619CFF"/>
<circle cx="405.3" cy="269.7" r="3.6" fill="#8CAB00"/><circle cx="408.8" cy="269.0" r="3.9" fill="#8CAB00"/><circle cx="413.3" cy="269.0" r="3.7" fill="#39B600"/><circle cx="418.1" cy="269.3" r="4.0" fill="#39B600"/><circle cx="423.0" cy="269.8" r="4.0" fill="#39B600"/><circle cx="427.8" cy="270.5" r="3.4" fill="#39B600"/><circle cx="432.7" cy="271.4" r="3.3" fill="#39B600"/><circle cx="437.6" cy="272.4" r="4.2" fill="#39B600"/><circle cx="442.4" cy="273.4" r="3.6" fill="#39B600"/><circle cx="447.2" cy="274.5" r="3.6" fill="#39B600"/><circle cx="451.9" cy="275.7" r="4.4" fill="#39B600"/><circle cx="456.6" cy="277.2" r="3.8" fill="#39B600"/><circle cx="461.2" cy="278.8" r="4.2" fill="#39B600"/><circle cx="465.8" cy="280.6" r="3.8" fill="#39B600"/><circle cx="470.4" cy="282.6" r="4.0" fill="#00BA38"/><circle cx="475.1" cy="284.4" r="3.5" fill="#39B600"/><circle cx="479.7" cy="286.3" r="4.0" fill="#39B600"/><circle cx="484.3" cy="288.3" r="4.3" fill="#39B600"/><circle cx="490.0" cy="290.1" r="3.9" fill="#8CAB00"/><circle cx="496.4" cy="287.7" r="4.1" fill="#8CAB00"/><circle cx="498.2" cy="282.3" r="4.0" fill="#8CAB00"/><circle cx="500.4" cy="279.6" r="3.4" fill="#8CAB00"/><circle cx="504.2" cy="278.5" r="4.1" fill="#BA9E00"/><circle cx="508.9" cy="277.7" r="4.0" fill="#BA9E00"/><circle cx="513.8" cy="277.0" r="3.6" fill="#8CAB00"/><circle cx="518.6" cy="276.4" r="3.3" fill="#8CAB00"/><circle cx="523.3" cy="276.4" r="4.3" fill="#8CAB00"/><circle cx="527.9" cy="276.9" r="3.8" fill="#8CAB00"/><circle cx="532.6" cy="277.8" r="4.1" fill="#00BA38"/><circle cx="537.3" cy="279.1" r="4.3" fill="#8CAB00"/><circle cx="541.9" cy="280.6" r="4.1" fill="#8CAB00"/><circle cx="546.4" cy="282.4" r="4.3" fill="#8CAB00"/><circle cx="550.7" cy="284.4" r="3.7" fill="#8CAB00"/><circle cx="554.7" cy="286.7" r="4.2" fill="#8CAB00"/><circle cx="558.1" cy="289.7" r="3.8" fill="#8CAB00"/><circle cx="561.4" cy="293.3" r="4.3" fill="#8CAB00"/><circle cx="564.9" cy="297.0" r="4.3" fill="#8CAB00"/><circle cx="568.6" cy="300.5" r="3.4" fill="#00BA38"/><circle cx="572.0" cy="303.8" r="3.4" fill="#00BA38"/><circle cx="574.9" cy="307.4" r="3.5" fill="#00BA38"/><circle cx="577.1" cy="311.5" r="4.4" fill="#00BA38"/><circle cx="578.9" cy="315.9" r="3.8" fill="#00BA38"/><circle cx="580.6" cy="320.4" r="4.0" fill="#00BA38"/><circle cx="581.8" cy="324.8" r="3.6" fill="#8CAB00"/><circle cx="582.0" cy="329.3" r="3.9" fill="#00BA38"/><circle cx="581.6" cy="334.0" r="3.7" fill="#8CAB00"/><circle cx="580.8" cy="338.8" r="3.7" fill="#8CAB00"/><circle cx="580.0" cy="343.7" r="3.9" fill="#00BA38"/><circle cx="579.2" cy="348.4" r="3.9" fill="#00BA38"/><circle cx="577.7" cy="352.0" r="4.3" fill="#00BA38"/><circle cx="574.6" cy="354.5" r="4.1" fill="#00BA38"/><circle cx="570.3" cy="356.5" r="4.3" fill="#00BA38"/><circle cx="565.7" cy="358.8" r="4.2" fill="#00BA38"/><circle cx="561.4" cy="361.5" r="4.4" fill="#8CAB00"/><circle cx="557.3" cy="363.9" r="4.0" fill="#8CAB00"/><circle cx="553.1" cy="365.6" r="3.5" fill="#00BA38"/><circle cx="548.5" cy="366.6" r="4.2" fill="#00BA38"/><circle cx="543.5" cy="367.4" r="4.4" fill="#8CAB00"/><circle cx="538.5" cy="368.7" r="4.3" fill="#8CAB00"/><circle cx="533.5" cy="370.4" r="3.9" fill="#8CAB00"/><circle cx="528.5" cy="372.8" r="4.1" fill="#00BA38"/><circle cx="524.1" cy="376.5" r="3.5" fill="#8CAB00"/><circle cx="521.2" cy="380.7" r="4.2" fill="#8CAB00"/><circle cx="518.2" cy="384.2" r="3.9" fill="#8CAB00"/><circle cx="514.0" cy="387.4" r="3.6" fill="#8CAB00"/><circle cx="511.5" cy="392.4" r="3.4" fill="#8CAB00"/><circle cx="509.2" cy="396.4" r="4.2" fill="#8CAB00"/><circle cx="506.2" cy="400.0" r="4.4" fill="#00C094"/><circle cx="502.8" cy="403.8" r="3.4" fill="#8CAB00"/><circle cx="499.7" cy="407.9" r="4.2" fill="#8CAB00"/><circle cx="496.8" cy="412.1" r="3.8" fill="#00C094"/><circle cx="494.0" cy="416.5" r="3.5" fill="#8CAB00"/><circle cx="491.7" cy="421.4" r="3.6" fill="#8CAB00"/><circle cx="490.3" cy="426.2" r="4.1" fill="#8CAB00"/><circle cx="488.3" cy="430.4" r="4.3" fill="#8CAB00"/><circle cx="485.9" cy="434.4" r="3.3" fill="#8CAB00"/><circle cx="483.0" cy="438.0" r="4.0" fill="#8CAB00"/><circle cx="479.6" cy="441.3" r="3.3" fill="#8CAB00"/><circle cx="476.0" cy="444.5" r="4.1" fill="#8CAB00"/><circle cx="472.1" cy="447.2" r="3.7" fill="#8CAB00"/><circle cx="468.1" cy="449.7" r="4.3" fill="#8CAB00"/><circle cx="463.8" cy="451.8" r="4.4" fill="#8CAB00"/><circle cx="459.4" cy="453.6" r="3.9" fill="#8CAB00"/><circle cx="454.8" cy="455.0" r="4.4" fill="#8CAB00"/><circle cx="450.2" cy="455.9" r="3.6" fill="#8CAB00"/><circle cx="445.4" cy="456.4" r="3.4" fill="#8CAB00"/><circle cx="440.2" cy="456.9" r="4.0" fill="#EA6AF0"/><circle cx="435.1" cy="458.0" r="3.3" fill="#8CAB00"/><circle cx="429.9" cy="459.5" r="3.5" fill="#8CAB00"/><circle cx="424.7" cy="462.5" r="3.7" fill="#FF6C91"/><circle cx="421.6" cy="467.7" r="4.0" fill="#FF6C91"/><circle cx="420.2" cy="473.2" r="3.5" fill="#FF6C91"/><circle cx="419.9" cy="478.4" r="3.3" fill="#FF6C91"/><circle cx="419.5" cy="483.2" r="4.3" fill="#FF6C91"/><circle cx="418.8" cy="487.7" r="3.6" fill="#FF6C91"/><circle cx="416.9" cy="491.7" r="4.4" fill="#FF6C91"/><circle cx="414.4" cy="495.6" r="4.3" fill="#FF6C91"/><circle cx="411.5" cy="498.9" r="3.7" fill="#FF6C91"/><circle cx="408.0" cy="501.4" r="3.8" fill="#FF6C91"/><circle cx="403.9" cy="503.1" r="3.9" fill="#FF6C91"/><circle cx="399.5" cy="504.1" r="4.0" fill="#FF6C91"/><circle cx="395.1" cy="504.2" r="4.0" fill="#FF6C91"/><circle cx="390.7" cy="503.3" r="3.9" fill="#FF6C91"/><circle cx="386.6" cy="501.7" r="4.0" fill="#FF6C91"/><circle cx="383.0" cy="499.3" r="4.3" fill="#FF6C91"/><circle cx="380.0" cy="496.0" r="3.9" fill="#FF6C91"/><circle cx="377.6" cy="492.2" r="3.8" fill="#FF6C91"/><circle cx="375.7" cy="487.9" r="4.1" fill="#FF6C91"/><circle cx="374.2" cy="483.4" r="3.6" fill="#FF6C91"/><circle cx="373.0" cy="478.7" r="3.6" fill="#FF6C91"/><circle cx="372.0" cy="474.0" r="4.4" fill="#FF6C91"/><circle cx="371.5" cy="469.3" r="3.9" fill="#FF6C91"/><circle cx="371.5" cy="464.7" r="3.9" fill="#FF6C91"/><circle cx="372.1" cy="460.1" r="3.3" fill="#FF6C91"/><circle cx="373.4" cy="455.6" r="3.8" fill="#FF6C91"/><circle cx="375.1" cy="451.0" r="3.9" fill="#FF6C91"/><circle cx="376.7" cy="446.2" r="3.3" fill="#FF6C91"/><circle cx="378.4" cy="440.9" r="4.0" fill="#FF6C91"/><circle cx="377.7" cy="434.8" r="4.0" fill="#00C1A0"/><circle cx="374.6" cy="429.9" r="3.4" fill="#FF6C91"/><circle cx="371.6" cy="426.0" r="4.0" fill="#00C1A0"/><circle cx="369.0" cy="422.0" r="3.8" fill="#FF6C91"/><circle cx="366.6" cy="417.7" r="4.0" fill="#FF6C91"/><circle cx="364.1" cy="413.3" r="3.7" fill="#00C1A0"/><circle cx="361.5" cy="408.9" r="4.1" fill="#00C1A0"/><circle cx="358.7" cy="404.7" r="4.1" fill="#00C1A0"/><circle cx="356.0" cy="400.5" r="3.3" fill="#00C1A0"/><circle cx="353.5" cy="396.4" r="3.4" fill="#00C1A0"/><circle cx="351.4" cy="392.0" r="4.0" fill="#00C1A0"/><circle cx="349.2" cy="387.5" r="4.4" fill="#00C1A0"/><circle cx="346.7" cy="382.8" r="3.6" fill="#00C1A0"/><circle cx="343.5" cy="378.7" r="3.8" fill="#00C1A0"/><circle cx="340.4" cy="374.8" r="4.0" fill="#00C1A0"/><circle cx="337.4" cy="370.8" r="3.7" fill="#00C1A0"/><circle cx="334.7" cy="367.1" r="3.7" fill="#00C1A0"/><circle cx="333.2" cy="363.7" r="3.6" fill="#00C1A0"/><circle cx="334.6" cy="360.2" r="3.7" fill="#00C1A0"/><circle cx="336.6" cy="356.3" r="4.0" fill="#00C1A0"/><circle cx="339.0" cy="353.6" r="3.6" fill="#00C1A0"/><circle cx="342.7" cy="353.2" r="3.7" fill="#00C1A0"/><circle cx="347.0" cy="353.7" r="4.1" fill="#00C1A0"/><circle cx="351.4" cy="355.1" r="3.3" fill="#00C1A0"/><circle cx="356.5" cy="357.2" r="3.9" fill="#00C1A0"/><circle cx="362.6" cy="356.6" r="4.1" fill="#00C1A0"/><circle cx="367.7" cy="354.1" r="3.6" fill="#FF61C3"/><circle cx="372.3" cy="350.8" r="3.5" fill="#00C1A0"/><circle cx="375.6" cy="346.6" r="4.2" fill="#FF61C3"/><circle cx="378.5" cy="342.5" r="3.6" fill="#FF61C3"/><circle cx="381.7" cy="338.7" r="3.5" fill="#9590FF"/><circle cx="384.8" cy="334.5" r="3.8" fill="#9590FF"/><circle cx="387.5" cy="330.1" r="4.1" fill="#A7A400"/><circle cx="390.0" cy="325.7" r="3.4" fill="#9590FF"/><circle cx="392.4" cy="321.1" r="3.7" fill="#9590FF"/><circle cx="394.5" cy="316.3" r="3.7" fill="#A7A400"/><circle cx="396.1" cy="311.4" r="4.2" fill="#A7A400"/><circle cx="397.5" cy="306.5" r="3.8" fill="#A7A400"/><circle cx="398.7" cy="301.8" r="4.2" fill="#A7A400"/><circle cx="400.4" cy="297.3" r="3.5" fill="#A7A400"/><circle cx="402.5" cy="292.5" r="3.7" fill="#39B600"/><circle cx="403.3" cy="287.0" r="4.0" fill="#39B600"/><circle cx="403.5" cy="281.9" r="4.3" fill="#8CAB00"/><circle cx="403.9" cy="277.0" r="3.8" fill="#39B600"/><circle cx="404.1" cy="272.5" r="3.5" fill="#39B600"/>
<circle cx="165.6" cy="457.7" r="3.6" fill="#00B0F6"/><circle cx="168.0" cy="455.8" r="3.4" fill="#00B0F6"/><circle cx="171.9" cy="455.4" r="3.7" fill="#00B0F6"/><circle cx="176.2" cy="455.7" r="3.5" fill="#00B0F6"/><circle cx="180.1" cy="457.4" r="3.4" fill="#00B0F6"/><circle cx="183.9" cy="460.2" r="3.7" fill="#00B0F6"/><circle cx="188.0" cy="463.1" r="4.3" fill="#00B0F6"/><circle cx="191.8" cy="466.1" r="4.2" fill="#00B0F6"/><circle cx="195.3" cy="469.2" r="4.1" fill="#00B0F6"/><circle cx="198.1" cy="472.8" r="3.5" fill="#00B0F6"/><circle cx="200.6" cy="477.1" r="3.9" fill="#00B0F6"/><circle cx="203.5" cy="481.4" r="3.6" fill="#00B0F6"/><circle cx="206.6" cy="485.4" r="3.5" fill="#00B0F6"/><circle cx="209.3" cy="489.2" r="3.4" fill="#00B0F6"/><circle cx="211.3" cy="494.2" r="3.5" fill="#00B0F6"/><circle cx="216.0" cy="497.7" r="4.3" fill="#00B0F6"/><circle cx="220.0" cy="500.5" r="4.2" fill="#00B0F6"/><circle cx="223.8" cy="503.7" r="4.2" fill="#00B0F6"/><circle cx="227.9" cy="506.7" r="4.2" fill="#00B0F6"/><circle cx="231.6" cy="509.9" r="3.5" fill="#00B0F6"/><circle cx="235.4" cy="513.2" r="3.6" fill="#00B0F6"/><circle cx="239.2" cy="516.5" r="4.0" fill="#00B0F6"/><circle cx="243.0" cy="519.8" r="4.1" fill="#00B0F6"/><circle cx="246.8" cy="523.1" r="4.2" fill="#00B0F6"/><circle cx="250.4" cy="526.4" r="4.3" fill="#00B0F6"/><circle cx="254.0" cy="529.8" r="3.4" fill="#00B0F6"/><circle cx="257.3" cy="533.3" r="4.0" fill="#00B0F6"/><circle cx="260.2" cy="537.2" r="4.0" fill="#00B0F6"/><circle cx="263.0" cy="541.3" r="3.9" fill="#00B0F6"/><circle cx="266.0" cy="545.4" r="3.5" fill="#00B0F6"/><circle cx="269.0" cy="549.5" r="3.8" fill="#00B0F6"/><circle cx="272.0" cy="553.5" r="3.4" fill="#00B0F6"/><circle cx="275.1" cy="557.6" r="4.3" fill="#00B0F6"/><circle cx="279.3" cy="562.2" r="4.3" fill="#00B0F6"/><circle cx="285.9" cy="562.4" r="3.9" fill="#00B0F6"/><circle cx="291.1" cy="559.5" r="3.6" fill="#00B0F6"/><circle cx="295.7" cy="555.3" r="4.3" fill="#00B0F6"/><circle cx="296.9" cy="549.1" r="3.9" fill="#00B0F6"/><circle cx="296.2" cy="543.5" r="4.3" fill="#00B0F6"/><circle cx="294.9" cy="538.8" r="4.2" fill="#00B0F6"/><circle cx="294.2" cy="535.5" r="3.9" fill="#00B0F6"/><circle cx="296.7" cy="534.3" r="3.8" fill="#00B0F6"/><circle cx="301.0" cy="533.8" r="4.0" fill="#00B0F6"/><circle cx="306.2" cy="533.6" r="3.8" fill="#FF61C3"/><circle cx="310.8" cy="532.1" r="3.5" fill="#FF61C3"/><circle cx="313.2" cy="532.2" r="3.6" fill="#FF61C3"/><circle cx="314.5" cy="535.0" r="4.2" fill="#FF61C3"/><circle cx="314.3" cy="538.7" r="3.3" fill="#00B0F6"/><circle cx="312.5" cy="542.7" r="3.4" fill="#00B0F6"/><circle cx="310.2" cy="546.9" r="4.0" fill="#00B0F6"/><circle cx="307.6" cy="551.0" r="3.6" fill="#00B0F6"/><circle cx="304.6" cy="554.7" r="3.9" fill="#00B0F6"/><circle cx="301.2" cy="558.5" r="3.8" fill="#00B0F6"/><circle cx="298.0" cy="562.8" r="3.7" fill="#00B0F6"/><circle cx="295.7" cy="567.2" r="4.4" fill="#00B0F6"/><circle cx="293.0" cy="570.2" r="3.5" fill="#00B0F6"/><circle cx="288.4" cy="572.6" r="3.8" fill="#00B0F6"/><circle cx="284.7" cy="577.7" r="3.5" fill="#00B0F6"/><circle cx="284.5" cy="583.7" r="4.0" fill="#00B0F6"/><circle cx="285.0" cy="588.9" r="3.6" fill="#00B0F6"/><circle cx="285.6" cy="594.0" r="3.7" fill="#00B0F6"/><circle cx="286.4" cy="599.1" r="4.1" fill="#00B0F6"/><circle cx="287.3" cy="604.2" r="3.7" fill="#00B0F6"/><circle cx="288.7" cy="609.0" r="3.9" fill="#00B0F6"/><circle cx="289.5" cy="613.6" r="4.3" fill="#00B0F6"/><circle cx="289.5" cy="618.3" r="3.4" fill="#00B0F6"/><circle cx="289.1" cy="622.9" r="3.4" fill="#00B0F6"/><circle cx="288.0" cy="627.3" r="3.6" fill="#00B0F6"/><circle cx="286.1" cy="631.5" r="4.1" fill="#00B0F6"/><circle cx="283.5" cy="635.4" r="4.0" fill="#00B0F6"/><circle cx="281.0" cy="639.0" r="3.6" fill="#00B0F6"/><circle cx="278.5" cy="640.6" r="3.7" fill="#00B0F6"/><circle cx="275.7" cy="639.3" r="3.5" fill="#00B0F6"/><circle cx="273.5" cy="636.0" r="3.8" fill="#00B0F6"/><circle cx="271.3" cy="631.6" r="3.3" fill="#00B0F6"/><circle cx="268.7" cy="627.2" r="4.1" fill="#00B0F6"/><circle cx="266.1" cy="622.9" r="4.3" fill="#00B0F6"/><circle cx="263.8" cy="618.8" r="4.4" fill="#00B0F6"/><circle cx="260.5" cy="612.6" r="4.1" fill="#00B0F6"/><circle cx="255.7" cy="615.3" r="4.4" fill="#00B0F6"/><circle cx="253.2" cy="614.6" r="3.3" fill="#00B0F6"/><circle cx="251.6" cy="610.6" r="3.6" fill="#00B0F6"/><circle cx="246.9" cy="606.9" r="4.4" fill="#00B0F6"/><circle cx="241.3" cy="605.6" r="4.2" fill="#00B0F6"/><circle cx="236.6" cy="604.9" r="3.8" fill="#7B98FF"/><circle cx="233.2" cy="603.5" r="4.3" fill="#7B98FF"/><circle cx="231.4" cy="600.0" r="4.0" fill="#7B98FF"/><circle cx="229.8" cy="595.5" r="4.2" fill="#00B0F6"/><circle cx="228.4" cy="591.1" r="3.6" fill="#00B0F6"/><circle cx="228.0" cy="586.5" r="3.5" fill="#00B0F6"/><circle cx="227.9" cy="581.3" r="3.8" fill="#00B0F6"/><circle cx="226.9" cy="575.9" r="3.5" fill="#00B0F6"/><circle cx="225.1" cy="570.9" r="3.7" fill="#00B0F6"/><circle cx="223.0" cy="566.2" r="4.4" fill="#00B0F6"/><circle cx="220.9" cy="561.5" r="3.7" fill="#00B0F6"/><circle cx="218.5" cy="556.8" r="3.3" fill="#00B0F6"/><circle cx="215.4" cy="552.5" r="3.3" fill="#00B0F6"/><circle cx="212.0" cy="548.3" r="3.5" fill="#00B0F6"/><circle cx="207.8" cy="544.7" r="4.2" fill="#00B0F6"/><circle cx="203.0" cy="542.1" r="3.7" fill="#00B0F6"/><circle cx="198.1" cy="540.1" r="3.6" fill="#00B0F6"/><circle cx="193.0" cy="538.3" r="3.4" fill="#00B0F6"/><circle cx="187.6" cy="537.6" r="4.4" fill="#00B0F6"/><circle cx="181.9" cy="537.7" r="3.8" fill="#00BCD8"/><circle cx="176.3" cy="539.6" r="3.5" fill="#00BCD8"/><circle cx="171.8" cy="543.4" r="3.4" fill="#00BCD8"/><circle cx="168.5" cy="547.5" r="3.4" fill="#00BCD8"/><circle cx="165.4" cy="551.3" r="3.5" fill="#00BCD8"/><circle cx="162.1" cy="554.7" r="4.0" fill="#00BCD8"/><circle cx="158.5" cy="558.2" r="3.5" fill="#00BCD8"/><circle cx="154.8" cy="561.6" r="3.3" fill="#00BCD8"/><circle cx="151.1" cy="564.9" r="3.8" fill="#00BCD8"/><circle cx="147.4" cy="568.2" r="3.6" fill="#00BCD8"/><circle cx="143.6" cy="571.2" r="4.4" fill="#00BCD8"/><circle cx="141.2" cy="573.4" r="3.4" fill="#00BCD8"/><circle cx="140.1" cy="571.2" r="3.9" fill="#00BCD8"/><circle cx="138.4" cy="570.1" r="4.2" fill="#00BCD8"/><circle cx="141.0" cy="568.0" r="3.8" fill="#00BCD8"/><circle cx="144.6" cy="564.9" r="4.4" fill="#00BCD8"/><circle cx="148.5" cy="561.7" r="3.8" fill="#00BCD8"/><circle cx="152.4" cy="558.4" r="3.6" fill="#00BCD8"/><circle cx="156.2" cy="555.1" r="3.8" fill="#00BCD8"/><circle cx="160.1" cy="551.7" r="3.3" fill="#00BCD8"/><circle cx="163.7" cy="547.8" r="3.8" fill="#00BCD8"/><circle cx="166.9" cy="543.7" r="3.6" fill="#00BCD8"/><circle cx="169.8" cy="539.5" r="4.3" fill="#00BCD8"/><circle cx="172.6" cy="535.7" r="4.2" fill="#00BCD8"/><circle cx="175.9" cy="532.7" r="3.8" fill="#00BCD8"/><circle cx="179.6" cy="530.6" r="3.3" fill="#00BCD8"/><circle cx="184.2" cy="529.4" r="3.6" fill="#00BCD8"/><circle cx="189.5" cy="527.7" r="3.6" fill="#00B0F6"/><circle cx="194.0" cy="524.2" r="3.5" fill="#00B0F6"/><circle cx="197.7" cy="520.3" r="3.6" fill="#00BCD8"/><circle cx="201.0" cy="516.0" r="4.3" fill="#00B0F6"/><circle cx="203.5" cy="510.6" r="3.5" fill="#00B0F6"/><circle cx="203.7" cy="504.7" r="3.4" fill="#00B0F6"/><circle cx="202.5" cy="499.1" r="4.3" fill="#00B0F6"/><circle cx="199.9" cy="494.4" r="3.9" fill="#00B0F6"/><circle cx="197.1" cy="489.7" r="4.4" fill="#00B0F6"/><circle cx="192.5" cy="486.3" r="3.7" fill="#00B0F6"/><circle cx="188.1" cy="483.6" r="4.3" fill="#00B0F6"/><circle cx="183.8" cy="481.1" r="4.0" fill="#00B0F6"/><circle cx="180.0" cy="478.2" r="4.2" fill="#00B0F6"/><circle cx="176.2" cy="475.1" r="4.1" fill="#00B0F6"/><circle cx="172.8" cy="471.9" r="3.8" fill="#00B0F6"/><circle cx="169.7" cy="468.2" r="3.4" fill="#00B0F6"/><circle cx="167.0" cy="464.4" r="3.5" fill="#00B0F6"/><circle cx="165.2" cy="460.9" r="4.3" fill="#00B0F6"/>
<g stroke="#000" stroke-width="2" fill="none" stroke-linecap="butt">
<path d="M74 82.6 V665.4 H604.8"/>
<path d="M83.8 665.4 V671.2" />
<path d="M180.7 665.4 V671.2" />
<path d="M277.5 665.4 V671.2" />
<path d="M374.4 665.4 V671.2" />
<path d="M471.2 665.4 V671.2" />
<path d="M568.1 665.4 V671.2" />
<path d="M68.3 163.8 H74" />
<path d="M68.3 259.6 H74" />
<path d="M68.3 355.3 H74" />
<path d="M68.3 451.1 H74" />
<path d="M68.3 546.8 H74" />
<path d="M68.3 642.5 H74" />
</g>
<g font-size="17.6" fill="#4D4D4D">
<text x="83.8" y="689.4" text-anchor="middle">-15</text>
<text x="180.7" y="689.4" text-anchor="middle">-10</text>
<text x="277.5" y="689.4" text-anchor="middle">-5</text>
<text x="374.4" y="689.4" text-anchor="middle">0</text>
<text x="471.2" y="689.4" text-anchor="middle">5</text>
<text x="568.1" y="689.4" text-anchor="middle">10</text>
<text x="63.2" y="170.0" text-anchor="end">10</text>
<text x="63.2" y="265.8" text-anchor="end">5</text>
<text x="63.2" y="361.5" text-anchor="end">0</text>
<text x="63.2" y="457.2" text-anchor="end">-5</text>
<text x="63.2" y="553.0" text-anchor="end">-10</text>
<text x="63.2" y="648.8" text-anchor="end">-15</text>
</g>
<text x="337.7" y="714.9" font-size="21.6" fill="#000" text-anchor="middle">Seurat_1</text>
<text transform="translate(26 374) rotate(-90)" font-size="22" fill="#000" text-anchor="middle">Seurat_2</text>
<text transform="translate(638 131.5) scale(1 1.045)" x="0" y="0" font-size="22.3" fill="#000">predicted.celltype.l2</text>
<g font-size="17.6" fill="#000">
<circle cx="655.4" cy="162.5" r="4.8" fill="#00C1A7"/><text x="684.6" y="168.7">ASDC</text>
<circle cx="655.4" cy="197.6" r="4.8" fill="#F8766D"/><text x="684.6" y="203.8">B intermediate</text>
<circle cx="655.4" cy="232.7" r="4.8" fill="#F07F4B"/><text x="684.6" y="238.9">B memory</text>
<circle cx="655.4" cy="267.7" r="4.8" fill="#E58700"/><text x="684.6" y="273.9">B naive</text>
<circle cx="655.4" cy="302.8" r="4.8" fill="#00B0F6"/><text x="684.6" y="309.0">CD14 Mono</text>
<circle cx="655.4" cy="337.9" r="4.8" fill="#00A9FF"/><text x="684.6" y="344.1">CD16 Mono</text>
<circle cx="655.4" cy="373.0" r="4.8" fill="#BA9E00"/><text x="684.6" y="379.2">CD4 Naive</text>
<circle cx="655.4" cy="408.1" r="4.8" fill="#A3A500"/><text x="684.6" y="414.3">CD4 Proliferating</text>
<circle cx="655.4" cy="443.1" r="4.8" fill="#8CAB00"/><text x="684.6" y="449.3">CD4 TCM</text>
<circle cx="655.4" cy="478.2" r="4.8" fill="#6FB000"/><text x="684.6" y="484.4">CD4 TEM</text>
<circle cx="655.4" cy="513.3" r="4.8" fill="#00BA38"/><text x="684.6" y="519.5">CD8 Naive</text>
<circle cx="655.4" cy="548.4" r="4.8" fill="#00BE70"/><text x="684.6" y="554.6">CD8 TCM</text>
<circle cx="655.4" cy="583.5" r="4.8" fill="#00C08B"/><text x="684.6" y="589.7">CD8 TEM</text>
<circle cx="655.4" cy="618.5" r="4.8" fill="#00BCD4"/><text x="684.6" y="624.7">cDC1</text>
<circle cx="848" cy="162.5" r="4.8" fill="#00BCD8"/><text x="876.7" y="168.7">cDC2</text>
<circle cx="848" cy="197.6" r="4.8" fill="#FF61C3"/><text x="876.7" y="203.8">dnT</text>
<circle cx="848" cy="232.7" r="4.8" fill="#C77CFF"/><text x="876.7" y="238.9">Eryth</text>
<circle cx="848" cy="267.7" r="4.8" fill="#FF689F"/><text x="876.7" y="273.9">gdT</text>
<circle cx="848" cy="302.8" r="4.8" fill="#E76BF3"/><text x="876.7" y="309.0">HSPC</text>
<circle cx="848" cy="337.9" r="4.8" fill="#F564E3"/><text x="876.7" y="344.1">ILC</text>
<circle cx="848" cy="373.0" r="4.8" fill="#FF6C91"/><text x="876.7" y="379.2">MAIT</text>
<circle cx="848" cy="408.1" r="4.8" fill="#619CFF"/><text x="876.7" y="414.3">NK</text>
<circle cx="848" cy="443.1" r="4.8" fill="#9590FF"/><text x="876.7" y="449.3">NK Proliferating</text>
<circle cx="848" cy="478.2" r="4.8" fill="#B983FF"/><text x="876.7" y="484.4">NK_CD56bright</text>
<circle cx="848" cy="513.3" r="4.8" fill="#00B9E3"/><text x="876.7" y="519.5">pDC</text>
<circle cx="848" cy="548.4" r="4.8" fill="#D89000"/><text x="876.7" y="554.6">Plasmablast</text>
<circle cx="848" cy="583.5" r="4.8" fill="#FF61C9"/><text x="876.7" y="589.7">Platelet</text>
<circle cx="848" cy="618.5" r="4.8" fill="#39B600"/><text x="876.7" y="624.7">Treg</text>
</g>
</svg></body></html>
